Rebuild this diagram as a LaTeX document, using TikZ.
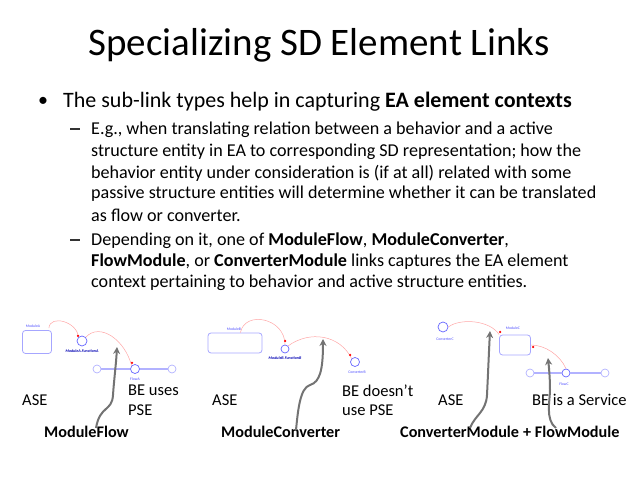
\documentclass[tikz,border=0pt]{standalone}
\usepackage{fontspec}
\setmainfont{Carlito}
\usetikzlibrary{arrows.meta}
\begin{document}
\begin{tikzpicture}[x=1pt,y=-1pt,
  txt/.style={anchor=west,inner sep=0pt,font=\fontsize{18.1}{20}\selectfont},
  lbl/.style={inner sep=0pt,font=\fontsize{16.5}{18}\selectfont},
  blbl/.style={inner sep=0pt,font=\fontsize{16.2}{18}\selectfont\bfseries},
  tiny/.style={inner sep=0pt,font=\fontsize{3.8}{4}\selectfont,text=blue!70},
  tinyb/.style={inner sep=0pt,font=\fontsize{4}{4}\selectfont\bfseries\itshape,text=blue!70!black},
  mod/.style={draw=blue!35,rounded corners=3pt,line width=0.8pt},
  circ/.style={draw=blue!60,circle,minimum size=10pt,inner sep=0pt,line width=0.7pt},
  rlink/.style={draw=red!35,line width=0.5pt},
  rdot/.style={fill=red,circle,inner sep=0pt,minimum size=2.5pt},
  pipe/.style={draw=blue!30,line width=1.8pt},
  cloud/.style={draw=blue!30,circle,minimum size=8pt,inner sep=0pt,line width=0.7pt},
  dashmark/.style={fill=black!80,minimum width=10pt,minimum height=1.3pt,inner sep=0pt},
  garrow/.style={draw=gray!90!black,line width=2pt,-{Stealth[length=7pt,width=7pt]}}]
\useasboundingbox (0,0) rectangle (638,478);
\node[inner sep=0pt,font=\fontsize{39}{42}\selectfont] (title) at (319,45) {Specializing SD Element Links};
\node[inner sep=0pt,font=\fontsize{20}{22}\selectfont] (b1) at (43,102) {•};
\node[txt,font=\fontsize{22}{24}\selectfont] (l0) at (63,102) {The sub-link types help in capturing \textbf{EA element contexts}};
\node[dashmark] (d1) at (75,129) {};
\node[txt] (l1) at (91,130) {E.g., when translating relation between a behavior and a active};
\node[txt] (l2) at (91,152) {structure entity in EA to corresponding SD representation; how the};
\node[txt] (l3) at (91,173) {behavior entity under consideration is (if at all) related with some};
\node[txt] (l4) at (91,194) {passive structure entities will determine whether it can be translated};
\node[txt] (l5) at (91,215) {as flow or converter.};
\node[dashmark] (d2) at (75,240) {};
\node[txt] (l6) at (91,241) {Depending on it, one of \textbf{ModuleFlow}, \textbf{ModuleConverter},};
\node[txt] (l7) at (91,262) {\textbf{FlowModule}, or \textbf{ConverterModule} links captures the EA element};
\node[txt] (l8) at (91,283) {context pertaining to behavior and active structure entities.};

% diagram 1
\node[mod,minimum width=29pt,minimum height=23pt] (mA) at (37,342) {};
\node[tiny] (mAl) at (33,326) {ModuleA};
\node[circ] (fA) at (82,341) {};
\node[tinyb] (fAl) at (82,351) {ModuleA.FunctionA};
\node[circ,minimum size=9pt] (flA) at (135,369) {};
\node[tiny] (flAl) at (135,379) {FlowA};
\node[cloud] (c1) at (97,369) {};
\node[cloud] (c2) at (172,369) {};
\draw[pipe] (c1) -- (flA) -- (c2);
\draw[rlink] (mA.north east) ++(-3,-2) coordinate (s1) .. controls (50,314) and (78,322) .. (fA.north west);
\node[rdot] at (78,336) {};
\draw[rlink] (fA.north east) .. controls (100,322) and (125,340) .. (flA.north west);
\node[rdot] at (132,363) {};
\node[lbl,anchor=west] (ase1) at (22,400) {ASE};
\node[lbl,anchor=west] (be1) at (128,390) {BE uses};
\node[lbl,anchor=west] (be1b) at (128,410) {PSE};
\node[blbl,anchor=west] (mf) at (44,432) {ModuleFlow};
\coordinate (a1s) at (96,428);
\coordinate (a1e) at (117,347);
\draw[garrow] (a1s) .. controls (100,405) and (112,412) .. (113,395) .. controls (114,380) and (116,365) .. (a1e);

% diagram 2
\node[mod,minimum width=54pt,minimum height=20pt] (mB) at (235,343) {};
\node[tiny] (mBl) at (234,329) {ModuleB};
\node[circ,minimum size=8pt] (fB) at (285,349) {};
\node[tinyb] (fBl) at (285,358) {ModuleB.FunctionB};
\node[circ,minimum size=9pt] (cB) at (355,362) {};
\node[tiny] (cBl) at (357,372) {ConverterB};
\draw[rlink] (mB.north east) ++(-22,0) .. controls (245,310) and (285,318) .. (fB.north);
\node[rdot] at (285,341) {};
\draw[rlink] (fB.north east) .. controls (310,330) and (340,335) .. (cB.north west);
\node[rdot] at (350,355) {};
\node[lbl,anchor=west] (ase2) at (212,400) {ASE};
\node[lbl,anchor=west] (be2) at (342,391) {BE doesn’t};
\node[lbl,anchor=west] (be2b) at (342,410) {use PSE};
\node[blbl,anchor=west] (mc) at (221,432) {ModuleConverter};
\coordinate (a2s) at (296,430);
\coordinate (a2e) at (323,339);
\draw[garrow] (a2s) .. controls (298,410) and (300,388) .. (310,385) .. controls (320,382) and (323,370) .. (a2e);

% diagram 3
\node[circ,minimum size=10pt] (cC) at (443,327) {};
\node[tiny] (cCl) at (445,339) {ConverterC};
\node[mod,minimum width=31pt,minimum height=20pt] (mC) at (515,345) {};
\node[tiny] (mCl) at (513,328) {ModuleC};
\node[circ,minimum size=8pt] (flC) at (566,373) {};
\node[tiny] (flCl) at (564,384) {FlowC};
\node[cloud] (c3) at (530,373) {};
\node[cloud] (c4) at (605,373) {};
\draw[pipe] (c3) -- (flC) -- (c4);
\draw[rlink] (cC.east) .. controls (460,318) and (490,320) .. (mC.north west);
\node[rdot] at (500,332) {};
\draw[rlink] (mC.east) .. controls (545,345) and (560,355) .. (flC.north);
\node[rdot] at (533,347) {};
\node[lbl,anchor=west] (ase3) at (438,400) {ASE};
\node[lbl,anchor=west] (be3) at (532,400) {BE is a Service};
\node[blbl,anchor=west] (cm) at (400,432) {ConverterModule};
\node[blbl,anchor=west] (fm) at (523,432) {+ FlowModule};
\coordinate (a3s) at (470,428);
\coordinate (a3e) at (490,331);
\draw[garrow] (a3s) .. controls (475,415) and (486,412) .. (487,395) .. controls (488,375) and (489,350) .. (a3e);
\coordinate (a4s) at (556,428);
\coordinate (a4e) at (548,358);
\draw[garrow] (a4s) .. controls (545,420) and (550,400) .. (550,390) .. controls (550,378) and (549,368) .. (a4e);
\end{tikzpicture}
\end{document}
